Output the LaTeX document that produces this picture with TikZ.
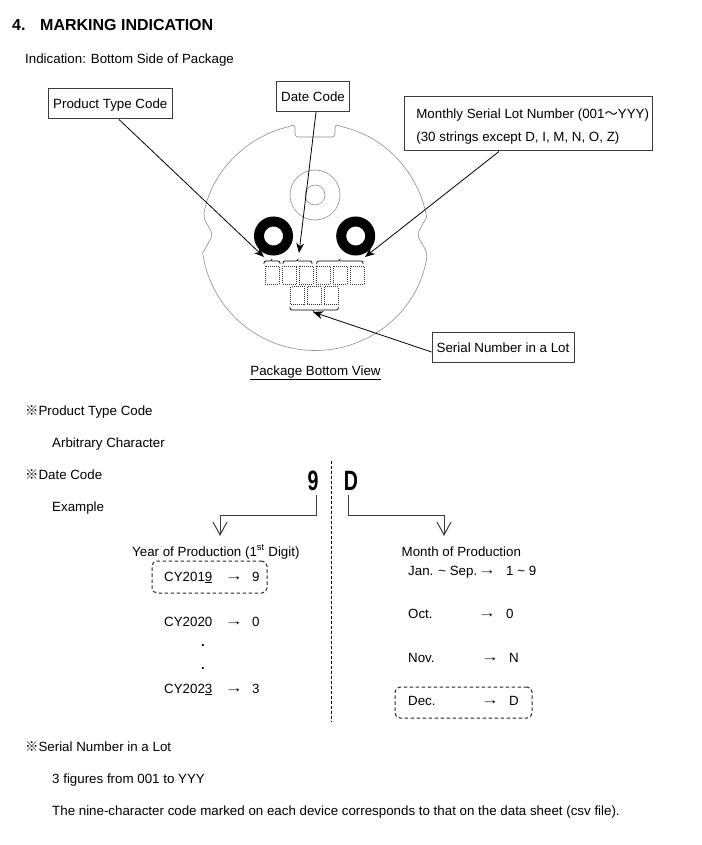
\documentclass[tikz,border=0pt]{standalone}
\usepackage{fontspec}
\usepackage{graphicx,xcolor}
\setmainfont{Liberation Sans}
\newfontfamily\cjk{Noto Sans CJK JP}
\usetikzlibrary{positioning, arrows.meta, calc}
\definecolor{box_grey}{RGB}{60, 60, 60}
\definecolor{pkg_grey}{RGB}{140, 140, 140}
\newcommand{\refmark}{{\cjk ※}}
\newcommand{\bigchar}[1]{\scalebox{0.7}[1]{\fontsize{28}{28}\selectfont\bfseries #1}}
\newcommand{\rar}{\raisebox{1pt}{\scalebox{1.35}[1]{→}}}

\begin{document}
\begin{tikzpicture}[x=1pt, y=-1pt, >={Stealth[length=10pt, width=8pt]}, font=\fontsize{13.33}{16}\selectfont,
      txt/.style ={anchor=base west, inner sep=0pt},
      lblbox/.style ={draw=box_grey, line width=1pt, align=center, inner sep=0pt},
      onebox/.style ={lblbox, minimum height=30pt, text height=12.5pt, text depth=2.5pt},
      markbox/.style ={draw=black!80, dash pattern=on 1pt off 1pt, line width=1pt, minimum width=14pt, minimum height=18pt, inner sep=0pt},
      sel/.style ={draw=black!85, dash pattern=on 3.5pt off 2.5pt, rounded corners=5pt, line width=1pt, inner sep=0pt},
      lead/.style ={->, line width=0.8pt},
      pick/.style ={draw=box_grey, line width=1pt, -{Straight Barb[length=13pt, width=14pt]}},
      brc/.style ={rounded corners=2pt, line width=0.7pt}]
    \useasboundingbox (0,0) rectangle (701,845);
    % --- TOP: heading ---
    \node[txt, font=\fontsize{16}{18}\selectfont\bfseries] (num) at (12,31) {4.};
    \node[txt, font=\fontsize{16}{18}\selectfont\bfseries] (title) at (40,31) {MARKING INDICATION};
    \node[txt] (ind) at (25,63.5) {Indication: Bottom Side of Package};
    % --- CENTRE: package outline with its notches ---
    \draw[pkg_grey, line width=0.6pt] (342,126.8) arc (-76.2:-10.2:113.5)
      [rounded corners=4pt] -- (417,235) -- (427.4,253) [rounded corners=0pt]
      arc (8.1:171.9:113.5)
      [rounded corners=4pt] -- (213,235) -- (203.3,217) [rounded corners=0pt]
      arc (190.2:256.2:113.5)
      [rounded corners=3pt] -- (295,124.5) -- (295,137) -- (335,137) -- (335,124.5) -- cycle;
    \draw[pkg_grey, line width=0.6pt] (315,195) circle (25) (315,195) circle (10);
    \draw[line width=10pt] (273.5,236) circle (14.5);
    \draw[line width=10pt] (355.7,236) circle (14.5);
    % --- the marking positions ---
    \foreach \i/\x in {1/272, 2/289.7, 3/306.3, 4/323, 5/340, 6/357}
      \node[markbox] (a\i) at (\x,275) {};
    \foreach \i/\x in {1/297.7, 2/314.3, 3/331.3}
      \node[markbox] (b\i) at (\x,295.7) {};
    \draw[brc] (264,264) -- (264,261) -- (272,261) -- (272,258.5) (272,261) -- (280,261) -- (280,264);
    \draw[brc] (283,264) -- (283,261) -- (298,261) -- (298,258.5) (298,261) -- (312,261) -- (312,264);
    \draw[brc] (316.7,264) -- (316.7,261) -- (340,261) -- (340,258.5) (340,261) -- (363,261) -- (363,264);
    \draw[brc] (290,307) -- (290,310) -- (314,310) -- (314,312.5) (314,310) -- (338.3,310) -- (338.3,307);
    \coordinate (pt) at (264,257);
    \coordinate (dt) at (299,253);
    \coordinate (st) at (365,257);
    \coordinate (nt) at (313,312);
    % --- labels round the package ---
    \node[onebox, minimum width=124pt] (ptc) at (110.3,104) {Product Type Code};
    \node[onebox, minimum width=72.5pt] (dc) at (313,96.7) {Date Code};
    \node[lblbox, minimum width=248pt, minimum height=54pt] (msl) at (528.7,124)
      {\hspace{8pt}\raisebox{-6.3pt}[0pt][0pt]{\begin{tabular}{@{}l@{}}Monthly Serial Lot Number (001{\cjk ～}YYY)\\[7.5pt](30 strings except D, I, M, N, O, Z)\end{tabular}}};
    \node[onebox, minimum width=142pt] (snl) at (503,347) {Serial Number in a Lot};
    \draw[lead] ($(ptc.south)+(8.7,0)$) -- (pt);
    \draw[lead] ($(dc.south)+(3,0)$) -- (dt);
    \draw[lead] ($(msl.south)+(-29.7,0)$) -- (st);
    \draw[lead] ($(snl.west)+(0,5)$) -- (nt);
    \node[anchor=base] (pbv) at (315.5,375) {\underline{Package Bottom View}};
    % --- notes ---
    \node[txt] (n1) at (25,415) {\refmark Product Type Code};
    \node[txt] (n1a) at (52,447) {Arbitrary Character};
    \node[txt] (n2) at (25,479) {\refmark Date Code};
    \node[txt] (n2a) at (52,511) {Example};
    \node[txt] (n3) at (25,751) {\refmark Serial Number in a Lot};
    \node[txt] (n3a) at (52,783) {3 figures from 001 to YYY};
    \node[txt] (n3b) at (52,815) {The nine-character code marked on each device corresponds to that on the data sheet (csv file).};
    % --- the example code ---
    \node[anchor=base, inner sep=0pt] (nine) at (313,490) {\bigchar{9}};
    \node[anchor=base, inner sep=0pt] (dee) at (351,490) {\bigchar{D}};
    \coordinate (divtop) at (331,461);
    \coordinate (divbot) at (331,722);
    \draw[dash pattern=on 3pt off 2pt, line width=1pt] (divtop) -- (divbot);
    \coordinate (ya) at (220,536);
    \coordinate (ma) at (444,536);
    \draw[pick] ($(nine.south)+(3,5)$) |- (ya |- 0,515) -- (ya);
    \draw[pick] ($(dee.south)+(-3,5)$) |- (ma |- 0,515) -- (ma);
    % --- LEFT: year of production ---
    \node[txt] (yr) at (132,556) {Year of Production (1\textsuperscript{st} Digit)};
    \node[txt] (y19) at (164,581) {CY201\underline{9}};
    \node[txt] (y19a) at (225,581) {\rar};
    \node[txt] (y19b) at (252,581) {9};
    \node[sel, minimum width=115pt, minimum height=32pt] (ysel) at (209.5,577) {};
    \node[txt] (y20) at (164,626) {CY2020};
    \node[txt] (y20a) at (225,626) {\rar};
    \node[txt] (y20b) at (252,626) {0};
    \node[txt] (d1) at (201,646) {\textbf{.}};
    \node[txt] (d2) at (201,669) {\textbf{.}};
    \node[txt] (y23) at (164,693) {CY202\underline{3}};
    \node[txt] (y23a) at (225,693) {\rar};
    \node[txt] (y23b) at (252,693) {3};
    % --- RIGHT: month of production ---
    \node[txt] (mo) at (401.5,556) {Month of Production};
    \node[txt] (jan) at (408,575) {Jan. \textasciitilde{} Sep.};
    \node[txt] (jana) at (478,575) {\rar};
    \node[txt] (janb) at (506,575) {1 \textasciitilde{} 9};
    \node[txt] (oct) at (408,618) {Oct.};
    \node[txt] (octa) at (478,618) {\rar};
    \node[txt] (octb) at (506,618) {0};
    \node[txt] (nov) at (408,662) {Nov.};
    \node[txt] (nova) at (481,662) {\rar};
    \node[txt] (novb) at (509,662) {N};
    \node[txt] (dec) at (408,705) {Dec.};
    \node[txt] (deca) at (481,705) {\rar};
    \node[txt] (decb) at (509,705) {D};
    \node[sel, minimum width=137pt, minimum height=31pt] (msel) at (463.5,702.5) {};
  \end{tikzpicture}
\end{document}
